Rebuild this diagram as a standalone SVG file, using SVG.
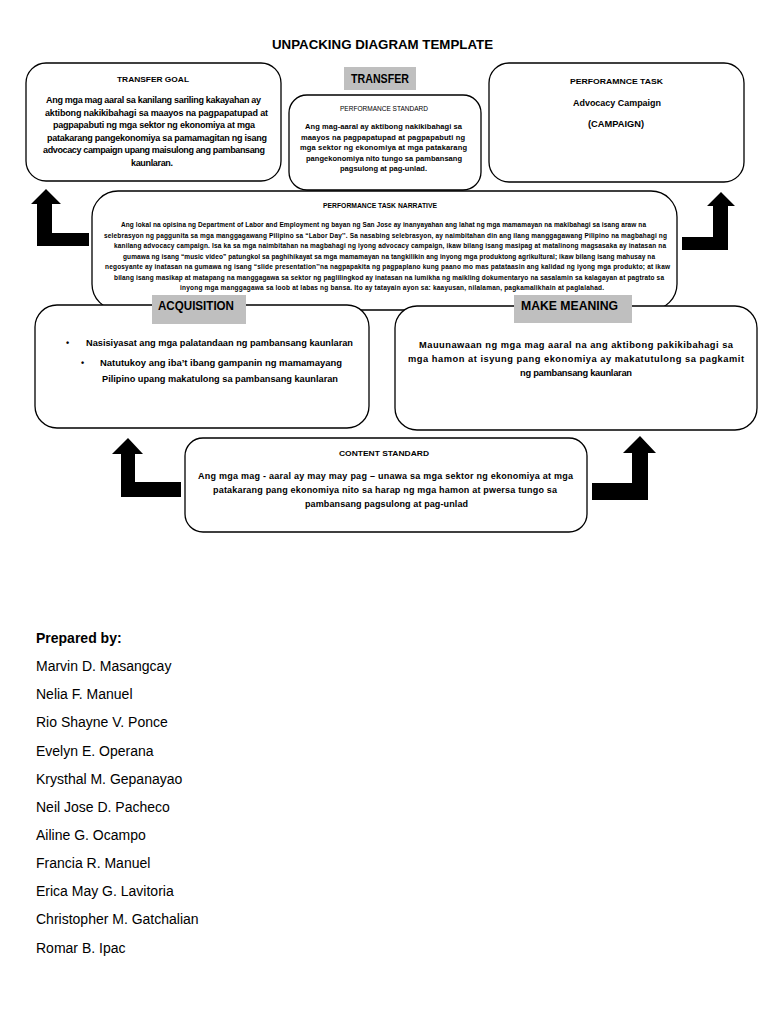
<svg xmlns="http://www.w3.org/2000/svg" width="768" height="1024" viewBox="0 0 768 1024">
<style>
text{font-family:"Liberation Sans",Arial,sans-serif;fill:#000}
.b{font-weight:bold}
.box{fill:#fff;stroke:#000;stroke-width:1.3}
.lab{fill:#bfbfbf}
.arr{fill:#000}
.n{font-size:14px}
</style>
<rect width="768" height="1024" fill="#fff"/>
<text class="b" x="272" y="49" font-size="12" textLength="221" lengthAdjust="spacingAndGlyphs">UNPACKING DIAGRAM TEMPLATE</text>

<g id="connectors">
<polygon class="arr" points="46,189 61,204 52,204 52,233 89,233 89,246 37,246 37,204 31,204"/>
<polygon class="arr" points="128,438 143,454 135,454 135,482 181,482 181,497 121,497 121,454 112,454"/>
<polygon class="arr" points="640,436 656,453 648,453 648,500 592,500 592,483 632,483 632,453 623,453"/>
<polygon class="arr" points="721,192 735,206 728,206 728,250 682,250 682,237 713,237 713,206 707,206"/>
</g>

<g id="transfer-goal">
<rect class="box" x="26" y="63" width="255" height="118" rx="20"/>
<text class="b" x="117" y="82" font-size="8" textLength="72" lengthAdjust="spacingAndGlyphs">TRANSFER GOAL</text>
<text class="b" font-size="9" lengthAdjust="spacingAndGlyphs">
<tspan x="46" y="103" textLength="215">Ang mga mag aaral sa kanilang sariling kakayahan ay</tspan>
<tspan x="45" y="115.5" textLength="223">aktibong nakikibahagi sa maayos na pagpapatupad at</tspan>
<tspan x="53" y="128" textLength="202">pagpapabuti  ng mga sektor ng ekonomiya at mga</tspan>
<tspan x="47" y="140.5" textLength="220">patakarang pangekonomiya sa pamamagitan ng isang</tspan>
<tspan x="43" y="153" textLength="222">advocacy campaign upang maisulong ang pambansang</tspan>
<tspan x="131" y="165.5" textLength="42">kaunlaran.</tspan>
</text>
</g>

<g id="transfer-label">
<rect class="lab" x="344" y="67" width="72" height="23"/>
<text class="b" x="351" y="83" font-size="12" textLength="58" lengthAdjust="spacingAndGlyphs">TRANSFER</text>
</g>

<g id="performance-standard">
<rect class="box" x="289" y="95" width="192" height="95" rx="18"/>
<text x="340" y="110.5" font-size="7" textLength="88" lengthAdjust="spacingAndGlyphs">PERFORMANCE STANDARD</text>
<text class="b" font-size="7.5" lengthAdjust="spacingAndGlyphs">
<tspan x="305" y="129" textLength="157">Ang mag-aaral ay  aktibong nakikibahagi  sa</tspan>
<tspan x="301" y="139.5" textLength="164">maayos na pagpapatupad at pagpapabuti  ng</tspan>
<tspan x="300" y="150" textLength="167">mga sektor ng ekonomiya at mga patakarang</tspan>
<tspan x="306" y="160.5" textLength="156">pangekonomiya nito  tungo sa pambansang</tspan>
<tspan x="340" y="171" textLength="87">pagsulong at pag-unlad.</tspan>
</text>
</g>

<g id="performance-task">
<rect class="box" x="489" y="63" width="255" height="119" rx="20"/>
<text class="b" x="570" y="83.5" font-size="8" textLength="93" lengthAdjust="spacingAndGlyphs">PERFORAMNCE TASK</text>
<text class="b" x="573" y="106" font-size="9.5" textLength="88" lengthAdjust="spacingAndGlyphs">Advocacy Campaign</text>
<text class="b" x="588" y="127" font-size="9.5" textLength="56" lengthAdjust="spacingAndGlyphs">(CAMPAIGN)</text>
</g>

<g id="performance-task-narrative">
<rect class="box" x="92" y="191" width="585" height="119" rx="26"/>
<text class="b" x="323" y="207.5" font-size="7" textLength="114" lengthAdjust="spacingAndGlyphs">PERFORMANCE TASK NARRATIVE</text>
<text class="b" font-size="6.5" lengthAdjust="spacingAndGlyphs">
<tspan x="121" y="227" textLength="525">Ang lokal na opisina ng Department of Labor and Employment ng bayan ng San Jose ay inanyayahan ang lahat ng mga mamamayan na makibahagi sa isang araw na</tspan>
<tspan x="104" y="237.5" textLength="563">selebrasyon ng paggunita sa mga manggagawang Pilipino sa “Labor Day’’. Sa nasabing selebrasyon, ay naimbitahan din ang ilang manggagawang Pilipino na magbahagi ng</tspan>
<tspan x="114" y="248" textLength="552">kanilang advocacy campaign. Isa ka sa mga naimbitahan na magbahagi ng iyong advocacy campaign, ikaw bilang isang masipag at matalinong magsasaka ay inatasan na</tspan>
<tspan x="123" y="258.5" textLength="532">gumawa ng isang “music video” patungkol sa paghihikayat sa mga mamamayan na tangkilikin ang inyong mga produktong agrikultural; ikaw bilang isang mahusay na</tspan>
<tspan x="105" y="269" textLength="565">negosyante  ay inatasan na gumawa ng isang “slide presentation’’na nagpapakita ng pagpaplano kung paano mo mas patataasin ang kalidad ng iyong mga produkto; at ikaw</tspan>
<tspan x="114" y="279.5" textLength="550">bilang isang masikap at matapang na manggagawa sa sektor ng paglilingkod ay inatasan na lumikha ng maikling dokumentaryo na sasalamin sa kalagayan at pagtrato sa</tspan>
<tspan x="180" y="290" textLength="424">inyong mga manggagawa sa loob at labas ng bansa. Ito ay tatayain ayon sa: kaayusan, nilalaman, pagkamalikhain at paglalahad.</tspan>
</text>
</g>

<g id="acquisition">
<rect class="box" x="35" y="305" width="334" height="123" rx="22"/>
<rect class="lab" x="152" y="295" width="94" height="29"/>
<text class="b" x="158" y="310" font-size="12" textLength="76" lengthAdjust="spacingAndGlyphs">ACQUISITION</text>
<text class="b" x="66" y="346" font-size="9">•</text>
<text class="b" x="86" y="346" font-size="9" textLength="267" lengthAdjust="spacingAndGlyphs">Nasisiyasat ang  mga palatandaan ng pambansang kaunlaran</text>
<text class="b" x="81" y="366" font-size="9">•</text>
<text class="b" x="100" y="366" font-size="9" textLength="242" lengthAdjust="spacingAndGlyphs">Natutukoy ang iba’t ibang gampanin ng mamamayang</text>
<text class="b" x="102" y="382" font-size="9" textLength="236" lengthAdjust="spacingAndGlyphs">Pilipino upang makatulong sa pambansang kaunlaran</text>
</g>

<g id="make-meaning">
<rect class="box" x="395" y="306" width="362" height="124" rx="22"/>
<rect class="lab" x="514" y="295" width="118" height="28"/>
<text class="b" x="521" y="310" font-size="12" textLength="97" lengthAdjust="spacingAndGlyphs">MAKE MEANING</text>
<text class="b" font-size="9.3" lengthAdjust="spacingAndGlyphs">
<tspan x="419" y="348" textLength="314">Mauunawaan ng mga mag aaral na ang aktibong pakikibahagi  sa</tspan>
<tspan x="408" y="362" textLength="336">mga hamon at isyung pang ekonomiya ay makatutulong sa pagkamit</tspan>
<tspan x="520" y="376" textLength="112">ng pambansang kaunlaran</tspan>
</text>
</g>

<g id="content-standard">
<rect class="box" x="185" y="438" width="402" height="94" rx="18"/>
<text class="b" x="339" y="456" font-size="8" textLength="90" lengthAdjust="spacingAndGlyphs">CONTENT STANDARD</text>
<text class="b" font-size="9" lengthAdjust="spacingAndGlyphs">
<tspan x="198" y="479" textLength="375">Ang mga mag - aaral ay may may pag – unawa  sa mga  sektor ng ekonomiya  at mga</tspan>
<tspan x="213" y="493" textLength="344">patakarang  pang ekonomiya nito sa harap ng mga  hamon at  pwersa tungo sa</tspan>
<tspan x="305" y="507" textLength="163">pambansang pagsulong at pag-unlad</tspan>
</text>
</g>

<g id="prepared-by">
<text class="b n" x="36" y="643">Prepared by:</text>
<text class="n" x="36" y="671">Marvin D. Masangcay</text>
<text class="n" x="36" y="699">Nelia F. Manuel</text>
<text class="n" x="36" y="727">Rio Shayne V. Ponce</text>
<text class="n" x="36" y="755.5">Evelyn E. Operana</text>
<text class="n" x="36" y="783.5">Krysthal M. Gepanayao</text>
<text class="n" x="36" y="812">Neil Jose D. Pacheco</text>
<text class="n" x="36" y="840">Ailine G. Ocampo</text>
<text class="n" x="36" y="868">Francia R. Manuel</text>
<text class="n" x="36" y="896">Erica May G. Lavitoria</text>
<text class="n" x="36" y="924">Christopher M. Gatchalian</text>
<text class="n" x="36" y="953">Romar B. Ipac</text>
</g>
</svg>
